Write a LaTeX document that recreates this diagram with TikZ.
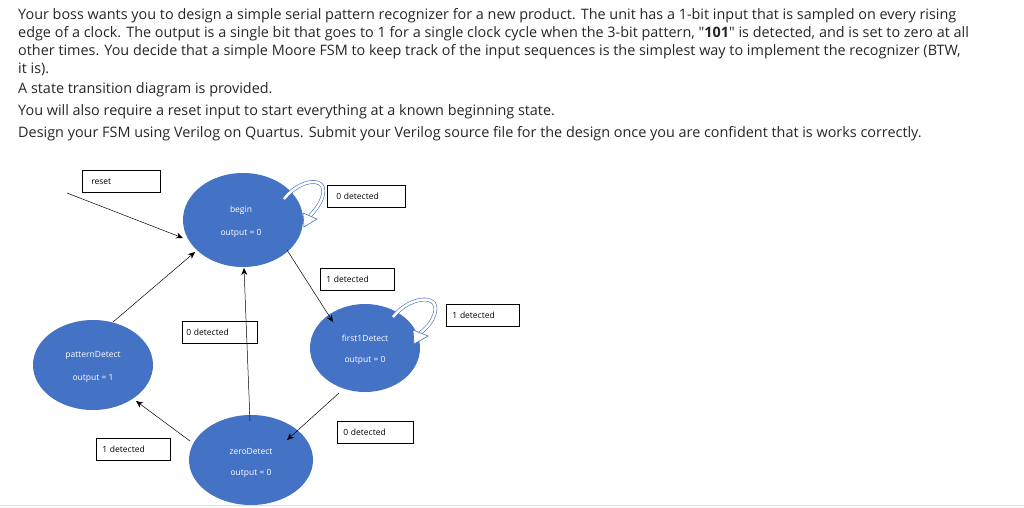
\documentclass[tikz,border=0pt]{standalone}
\usepackage{fontspec}
\setmainfont{Open Sans}
\usetikzlibrary{arrows.meta}
\definecolor{stblue}{RGB}{68,114,196}
\begin{document}
\begin{tikzpicture}[x=1pt,y=-1pt,
  txt/.style={anchor=base west,inner sep=0pt,font=\fontsize{14.4}{16}\selectfont,text=black!85},
  stext/.style={text=white,font=\fontsize{8.5}{10}\selectfont,inner sep=0pt},
  lbl/.style={draw=black,line width=0.6pt,anchor=north west,minimum height=22,inner sep=0pt,text width=#1,align=left,font=\fontsize{8.5}{10}\selectfont},
  arr/.style={-{Stealth[length=7pt,width=6pt]},line width=0.5pt},
  loopl/.style={draw=stblue,double=white,double distance=2.5pt,line width=0.6pt}]
\useasboundingbox (0,0) rectangle (1024,507);
\node[txt] (t1) at (18,19) {Your boss wants you to design a simple serial pattern recognizer for a new product. The unit has a 1-bit input that is sampled on every rising};
\node[txt] (t2) at (18,37) {edge of a clock. The output is a single bit that goes to 1 for a single clock cycle when the 3-bit pattern, \textquotedbl\textbf{101}\textquotedbl{} is detected, and is set to zero at all};
\node[txt] (t3) at (18,55) {other times. You decide that a simple Moore FSM to keep track of the input sequences is the simplest way to implement the recognizer (BTW,};
\node[txt] (t4) at (18,73) {it is).};
\node[txt] (t5) at (18,93) {A state transition diagram is provided.};
\node[txt] (t6) at (18,115) {You will also require a reset input to start everything at a known beginning state.};
\node[txt] (t7) at (18,137) {Design your FSM using Verilog on Quartus. Submit your Verilog source file for the design once you are confident that is works correctly.};
% states
\fill[stblue] (243,220) ellipse [x radius=60,y radius=47];
\coordinate (bc) at (243,220);
\fill[stblue] (365,348) ellipse [x radius=55,y radius=44];
\coordinate (fc) at (365,348);
\fill[stblue] (93,365) ellipse [x radius=60,y radius=45];
\coordinate (pc) at (93,365);
\fill[stblue] (251,460) ellipse [x radius=62,y radius=45];
\coordinate (zc) at (251,460);
\node[stext] (b1) at (241,210) {begin};
\node[stext] (b2) at (241,233) {output = 0};
\node[stext] (f1) at (365,338) {first1Detect};
\node[stext] (f2) at (365,360) {output = 0};
\node[stext] (p1) at (93,355) {patternDetect};
\node[stext] (p2) at (93,378) {output = 1};
\node[stext] (z1) at (251,451) {zeroDetect};
\node[stext] (z2) at (251,473) {output = 0};
% labels
\node[lbl=78] (lr) at (82,170) {\hspace{9pt}reset};
\node[lbl=78] (l0a) at (327,185) {\hspace{9pt}0 detected};
\node[lbl=74] (l1a) at (320,268) {\hspace{6pt}1 detected};
\node[lbl=73] (l1b) at (446,304) {\hspace{6pt}1 detected};
\node[lbl=75] (l0b) at (182,321) {\hspace{4pt}0 detected};
\node[lbl=74] (l1c) at (96,438) {\hspace{6pt}1 detected};
\node[lbl=76] (l0c) at (337,421) {\hspace{6pt}0 detected};
% arrows
\coordinate (rs) at (67,193);
\coordinate (re) at (183,238);
\draw[arr] (rs) -- (re);
\coordinate (pb1) at (113,322); \coordinate (pb2) at (195,252);
\draw[arr] (pb1) -- (pb2);
\coordinate (zb1) at (250,421); \coordinate (zb2) at (244,268);
\draw[arr] (zb1) -- (zb2);
\coordinate (bf1) at (287,250); \coordinate (bf2) at (333,322);
\draw[arr] (bf1) -- (bf2);
\coordinate (fz1) at (339,393); \coordinate (fz2) at (287,440);
\draw[arr] (fz1) -- (fz2);
\coordinate (zp1) at (190,441); \coordinate (zp2) at (136,401);
\draw[arr] (zp1) -- (zp2);
% self loops
\coordinate (ls1) at (284,199);
\draw[loopl] (ls1) .. controls (300,178) and (330,175) .. (322,198) .. controls (319,206) and (315,210) .. (310,216);
\draw[stblue,fill=white,line width=0.6pt] (303,213) -- (317,219) -- (304,227) -- cycle;
\coordinate (ls2) at (393,317);
\draw[loopl] (ls2) .. controls (410,295) and (445,292) .. (433,318) .. controls (429,326) and (424,330) .. (419,334);
\draw[stblue,fill=white,line width=0.6pt] (413,330) -- (428,336) -- (414,344) -- cycle;
\draw[black!12,line width=1pt] (0,505) -- (1024,505);
\end{tikzpicture}
\end{document}
